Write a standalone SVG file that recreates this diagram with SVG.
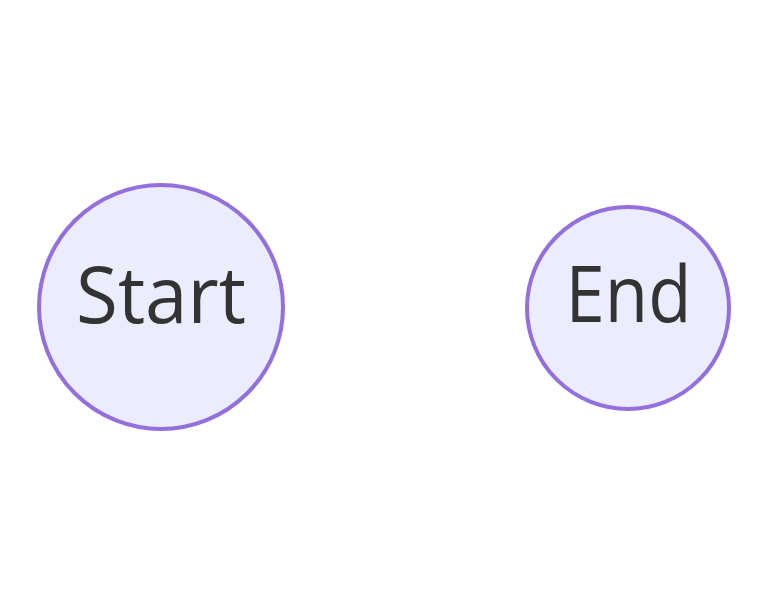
<svg xmlns="http://www.w3.org/2000/svg" width="768" height="616" viewBox="0 0 768 616">
<style>
.node circle{fill:#ECECFF;stroke:#9370DB;stroke-width:4}
.node text{font-family:"Open Sans","DejaVu Sans",sans-serif;font-size:79px;font-weight:500;fill:#333333;text-anchor:middle}
</style>
<rect width="768" height="616" fill="#ffffff"/>
<g id="connectors"></g>
<g id="start" class="node">
<circle cx="161" cy="307" r="122"/>
<text x="161" y="323" textLength="170" lengthAdjust="spacingAndGlyphs">Start</text>
</g>
<g id="end" class="node">
<circle cx="628" cy="308" r="101"/>
<text x="628.5" y="322" textLength="126" lengthAdjust="spacingAndGlyphs">End</text>
</g>
</svg>
